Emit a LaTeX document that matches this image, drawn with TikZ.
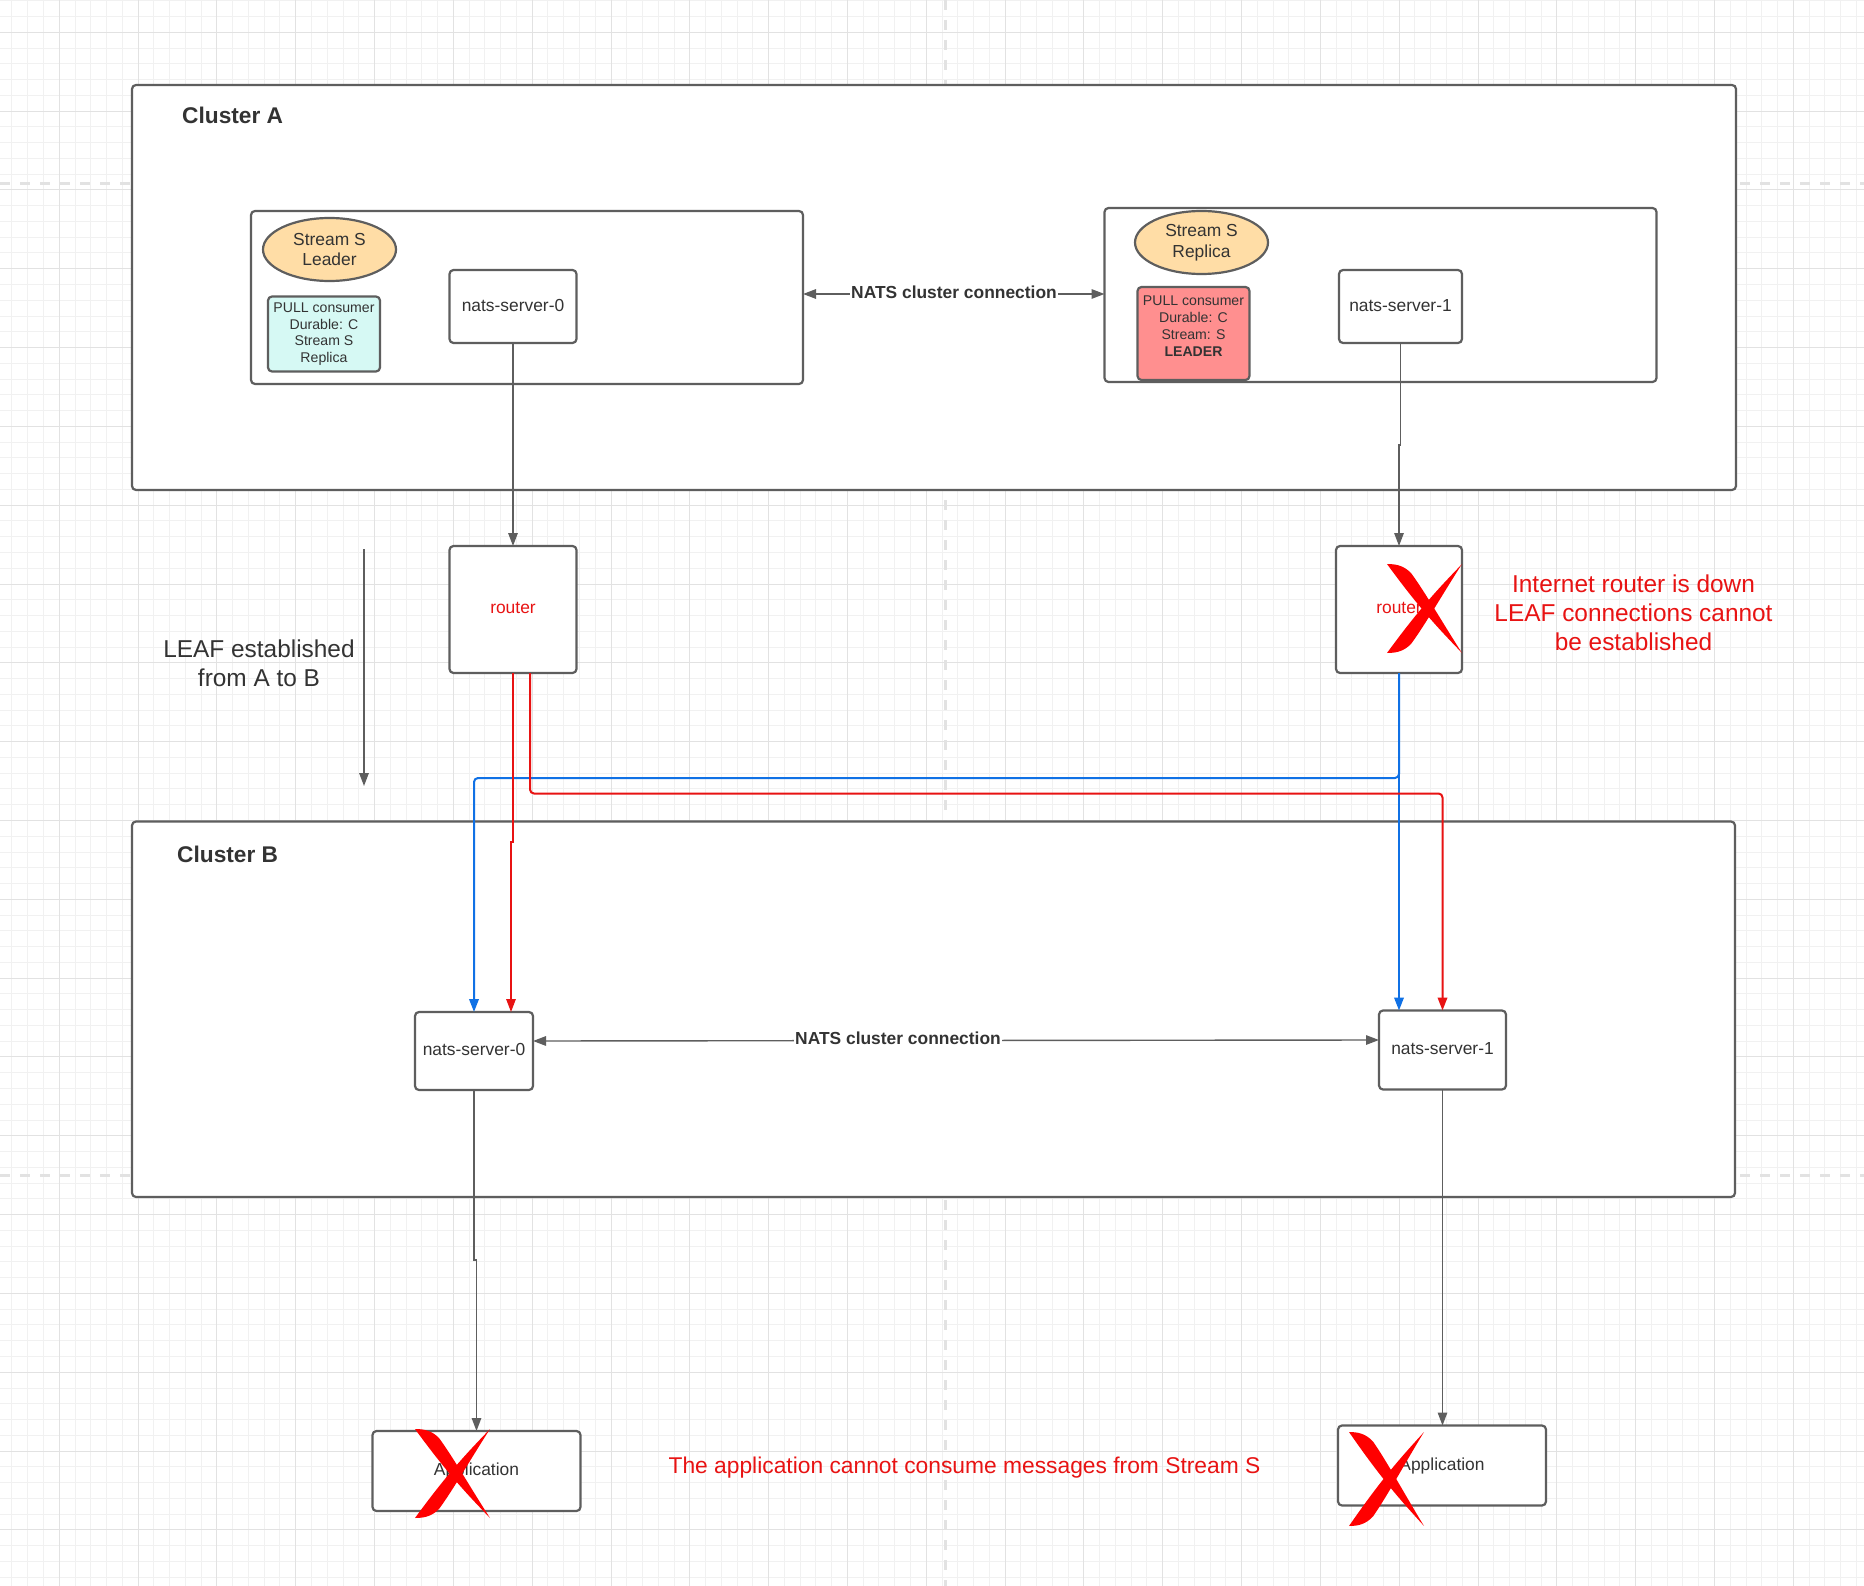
\documentclass[tikz,border=0pt]{standalone}
\usepackage{fontspec}
\setmainfont{Liberation Sans}
\usetikzlibrary{positioning, shapes.geometric, arrows.meta, calc}

\definecolor{edge}{HTML}{5E5E5E}
\definecolor{ink}{HTML}{333333}
\definecolor{alarm}{HTML}{E81313}
\definecolor{linkblue}{HTML}{1071E5}
\definecolor{linkred}{HTML}{E81313}
\definecolor{gridmajor}{HTML}{E2E2E2}
\definecolor{gridminor}{HTML}{F1F1F1}
\definecolor{streamfill}{HTML}{FFDDA6}
\definecolor{replicafill}{HTML}{D6F9F4}
\definecolor{leaderfill}{HTML}{FF8F8F}

\tikzset{
    pics/crossout/.style={code={
        \fill[red] (0,0) .. controls (10,0) and (17,2) .. (24,9) .. controls (38,28) and (55,58) .. (75,89) .. controls (55,68) and (35,48) .. cycle;
        \fill[red] (0,89) .. controls (10,89) and (17,87) .. (24,80) .. controls (38,61) and (55,31) .. (75,0) .. controls (55,21) and (35,41) .. cycle;
    }}
}

\begin{document}
\begin{tikzpicture}[
    x=1pt, y=-1pt,
    box/.style={rectangle, draw=edge, line width=2.2pt, rounded corners=4pt, fill=white, outer sep=0pt, inner sep=0pt, align=center, text=ink, font=\fontsize{17.4}{21.5}\selectfont},
    small/.style={box, font=\fontsize{14.1}{16.7}\selectfont},
    stream/.style={ellipse, draw=edge, line width=2.2pt, fill=streamfill, outer sep=0pt, inner sep=0pt, align=center, text=ink, font=\fontsize{17.4}{20.8}\selectfont},
    server/.style={box, minimum width=124pt, minimum height=73pt},
    router/.style={box, minimum width=127pt, minimum height=127pt, text=alarm},
    app/.style={box, minimum width=208pt, minimum height=80pt},
    heading/.style={inner sep=0pt, text=ink, font=\fontsize{22.7}{27}\selectfont\bfseries},
    conn/.style={inner sep=1pt, fill=white, text=ink, font=\fontsize{17.4}{21}\selectfont\bfseries},
    note/.style={inner sep=0pt, align=center, text=alarm, font=\fontsize{24.4}{29}\selectfont},
    arrow/.style={-{Triangle[length=13pt, width=9.5pt]}, draw=edge, line width=1.4pt},
    both/.style={{Triangle[length=13pt, width=9.5pt]}-{Triangle[length=13pt, width=9.5pt]}, draw=edge, line width=1.4pt},
    blueline/.style={-{Triangle[length=13pt, width=9.5pt]}, draw=linkblue, line width=2pt, rounded corners=4pt},
    redline/.style={-{Triangle[length=13pt, width=9.5pt]}, draw=linkred, line width=2pt, rounded corners=4pt},
    redthin/.style={-{Triangle[length=13pt, width=9.5pt]}, draw=linkred, line width=1.4pt}
]
    \useasboundingbox (0,0) rectangle (1864,1586);
    \fill[white] (0,0) rectangle (1864,1586);

    % Background grid
    \foreach \i in {0,...,118} \draw[gridminor, line width=1pt] ({-3.8+15.764*\i},0) -- ({-3.8+15.764*\i},1586);
    \foreach \i in {0,...,100} \draw[gridminor, line width=1pt] (0,{0.77+15.764*\i}) -- (1864,{0.77+15.764*\i});
    \foreach \i in {0,...,23} \draw[gridmajor, line width=1pt] ({59.3+78.82*\i},0) -- ({59.3+78.82*\i},1586);
    \foreach \i in {0,...,20} \draw[gridmajor, line width=1pt] (0,{32.3+78.82*\i}) -- (1864,{32.3+78.82*\i});
    \draw[gridmajor, line width=3pt, dash pattern=on 10pt off 10pt] (945.5,0) -- (945.5,1586);
    \draw[gridmajor, line width=3pt, dash pattern=on 10pt off 10pt] (0,183.5) -- (1864,183.5);
    \draw[gridmajor, line width=3pt, dash pattern=on 10pt off 10pt] (0,1175) -- (1864,1175);

    % Clusters
    \node[box, minimum width=1604pt, minimum height=405pt] (cluster-a) at (934,287.5) {};
    \node[box, minimum width=1603pt, minimum height=375.5pt] (cluster-b) at (933.5,1009.25) {};
    \node[heading, anchor=west] (cluster-a-label) at (182,115) {Cluster A};
    \node[heading, anchor=west] (cluster-b-label) at (177,854) {Cluster B};

    % Pods of cluster A
    \node[box, minimum width=552pt, minimum height=173pt] (pod-0) at (527,297.5) {};
    \node[box, minimum width=552pt, minimum height=174pt] (pod-1) at (1380.5,295) {};
    \node[stream, minimum width=133pt, minimum height=63pt] (stream-leader) at (329.5,249.5) {Stream S\\Leader};
    \node[stream, minimum width=133pt, minimum height=63pt] (stream-replica) at (1201.5,242.5) {Stream S\\Replica};
    \node[small, fill=replicafill, minimum width=112pt, minimum height=75pt] (consumer-replica) at (324,334) {PULL consumer\\Durable: C\\Stream S\\Replica};
    \node[small, fill=leaderfill, minimum width=112pt, minimum height=93pt] (consumer-leader) at (1193.5,333.5) {PULL consumer\\Durable: C\\Stream: S\\\textbf{LEADER}\\[-2pt]\mbox{}};
    \node[server, minimum width=127pt] (server-a0) at (513,306.5) {\raisebox{1.5pt}{nats-server-0}};
    \node[server, minimum width=123pt] (server-a1) at (1400.5,306.5) {\raisebox{1.5pt}{nats-server-1}};

    % Routers
    \node[router, below=203pt of server-a0] (router-0) {\raisebox{2.4pt}{router}};
    \node[router, below=203pt of server-a1, xshift=-1.5pt, minimum width=126pt] (router-1) {\raisebox{2.4pt}{router}};

    % Servers of cluster B
    \node[server, minimum width=118pt, minimum height=78pt] (server-b0) at (474,1051) {\raisebox{2.4pt}{nats-server-0}};
    \node[server, minimum width=127pt, minimum height=79pt] (server-b1) at (1442.5,1050) {\raisebox{2.4pt}{nats-server-1}};

    % Applications
    \node[app] (app-0) at (476.5,1471) {Application};
    \node[app] (app-1) at (1442,1465.5) {\raisebox{1pt}{Application}};

    % Arrows
    \draw[both] ([yshift=3.5pt]pod-0.east) -- ([yshift=1pt]pod-1.west);
    \draw[both] ([yshift=10pt]server-b0.east) -- ([yshift=10pt]server-b1.west);
    \draw[arrow] (server-a0.south) -- (router-0.north);
    \draw[arrow] (server-a1.south) -- ++(0,102) -| (router-1.north);
    \draw[arrow] (server-b0.south) -- ++(0,170) -| (app-0.north);
    \draw[arrow] (server-b1.south) -- (server-b1.south |- app-1.north);

    \draw[blueline] (router-1.south) -- ++(0,105) -| (server-b0.north);
    \draw[blueline] (router-1.south) -- (router-1.south |- server-b1.north);
    \draw[redthin] (router-0.south) -- ++(0,169) -| ([xshift=37pt]server-b0.north);
    \draw[redline] ([xshift=17pt]router-0.south) -- ++(0,120.5) -| (server-b1.north);

    % Leaf direction
    \coordinate (leaf-start) at (364,549);
    \coordinate (leaf-end) at (364,786);
    \draw[arrow] (leaf-start) -- (leaf-end);

    % Labels
    \node[conn] (conn-a) at (954,292.5) {NATS cluster connection};
    \node[conn] (conn-b) at (898,1038) {NATS cluster connection};
    \node[note, text=ink] (leaf-label) at (259,663) {LEAF established\\from A to B};
    \node[note] (router-note) at (1633.5,612.5) {Internet router is down\\LEAF connections cannot\\be established};
    \node[note, font=\fontsize{22.8}{28}\selectfont] (app-note) at (964.5,1468) {The application cannot consume messages from Stream S};

    % Failures
    \pic at (1387,564) {crossout};
    \pic at (415,1429) {crossout};
    \pic[yscale=1.056] at (1349,1432) {crossout};
\end{tikzpicture}
\end{document}
